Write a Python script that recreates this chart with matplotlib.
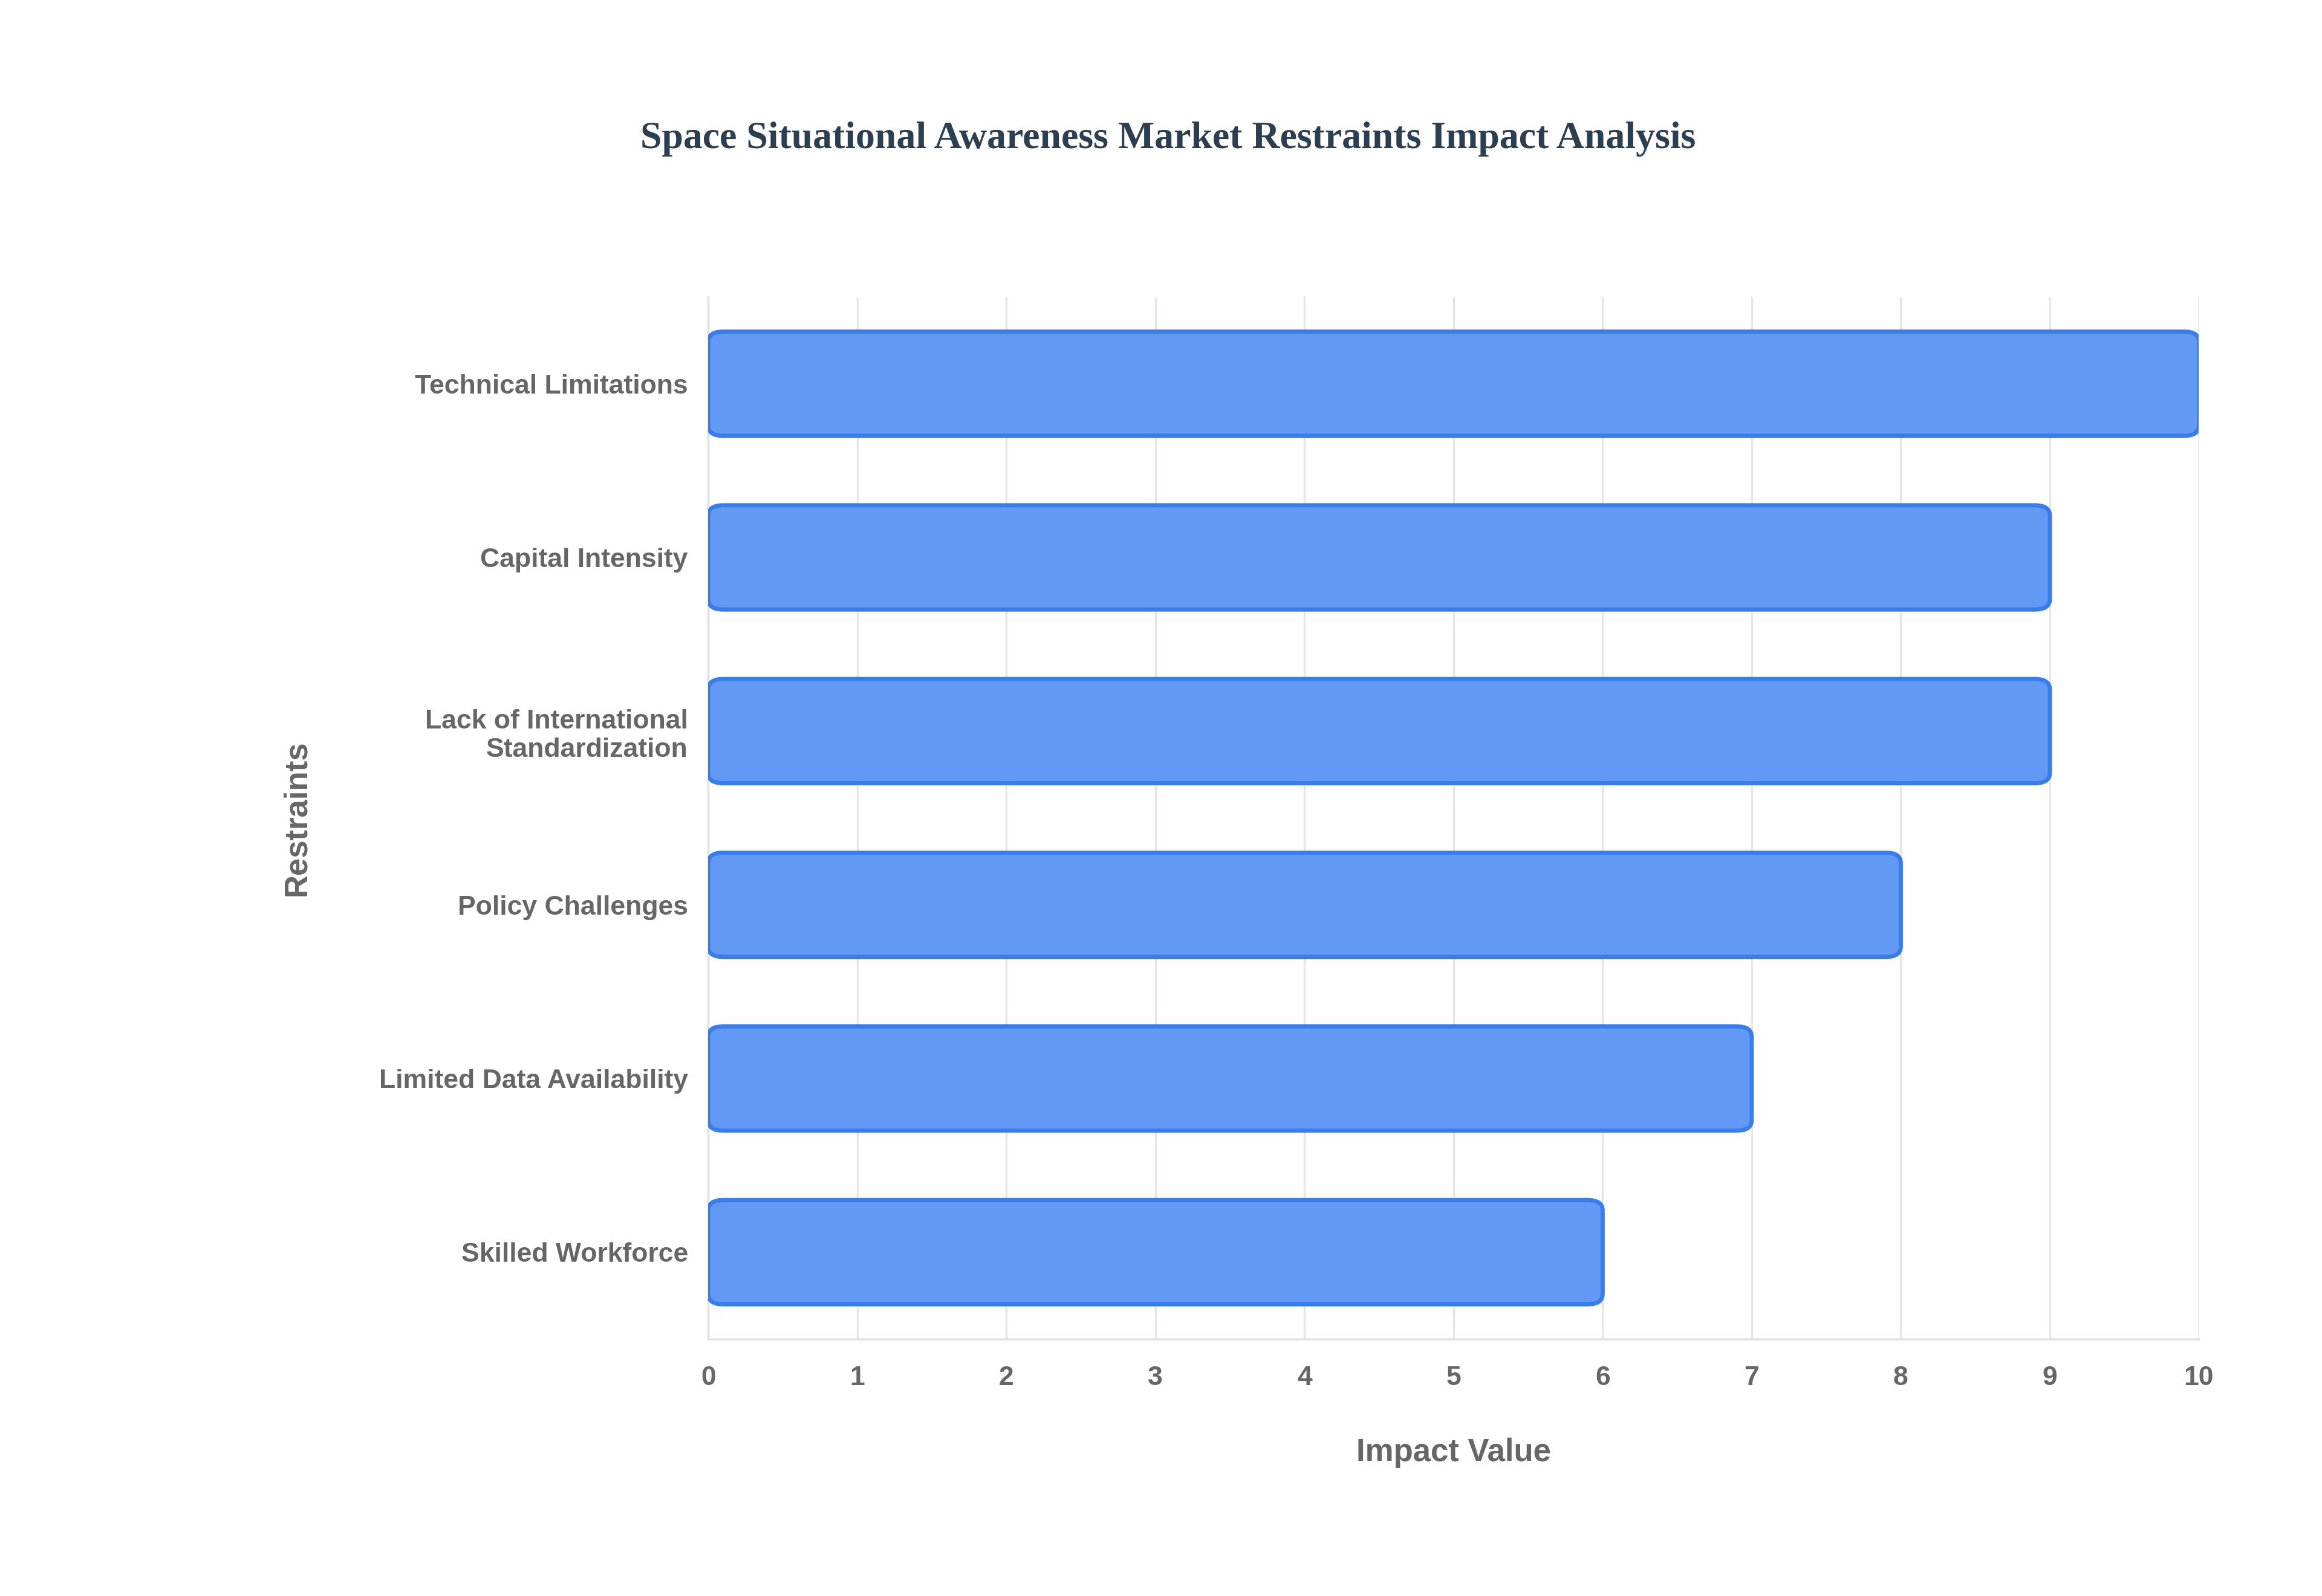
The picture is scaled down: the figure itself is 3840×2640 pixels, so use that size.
import matplotlib
matplotlib.use("Agg")
import matplotlib.pyplot as plt
from matplotlib.patches import FancyBboxPatch

categories = ["Technical Limitations", "Capital Intensity", "Lack of International\nStandardization",
              "Policy Challenges", "Limited Data Availability", "Skilled Workforce"]
values = [10, 9, 9, 8, 7, 6]
xticks = list(range(0, 11))

fig = plt.figure(figsize=(19.2, 13.2), dpi=200)
ax = fig.add_axes([0.305, 0.161, 0.642, 0.653])
ys = list(range(len(categories)))[::-1]
h = 0.6
for y, v in zip(ys, values):
    ax.add_patch(FancyBboxPatch((0, y - h/2), v, h, boxstyle="round,pad=0,rounding_size=0.1",
                                mutation_aspect=1/ (10/6) * 1.0,
                                facecolor="#6199F5", edgecolor="#3B7DE8", linewidth=2.5, zorder=3))
ax.set_xlim(0, 10)
ax.set_ylim(-0.5, 5.5)
ax.set_yticks(ys)
ax.set_yticklabels(categories, fontsize=16, fontweight="bold", color="#666666", family="Liberation Sans", ha="right")
ax.set_xticks(xticks)
ax.set_xticklabels([str(t) for t in xticks], fontsize=16, fontweight="bold", color="#666666", family="Liberation Sans")
ax.tick_params(axis="x", length=0, pad=16)
ax.tick_params(axis="y", length=0, pad=12)
ax.grid(axis="x", color="#e6e6e6", linewidth=1.2, zorder=0)
for s in ["top", "right"]:
    ax.spines[s].set_visible(False)
for s in ["left", "bottom"]:
    ax.spines[s].set_color("#e0e0e0")
    ax.spines[s].set_linewidth(1.2)
ax.set_xlabel("Impact Value", fontsize=19, fontweight="bold", color="#666666", family="Liberation Sans", labelpad=28)
ax.set_ylabel("Restraints", fontsize=19, fontweight="bold", color="#666666", family="Liberation Sans", labelpad=40)
fig.text(0.503, 0.913, "Space Situational Awareness Market Restraints Impact Analysis",
         ha="center", va="center", fontsize=23, fontweight="bold", color="#2c3e50", family="Liberation Serif")
fig.savefig("out.png", dpi=200, facecolor="white")
